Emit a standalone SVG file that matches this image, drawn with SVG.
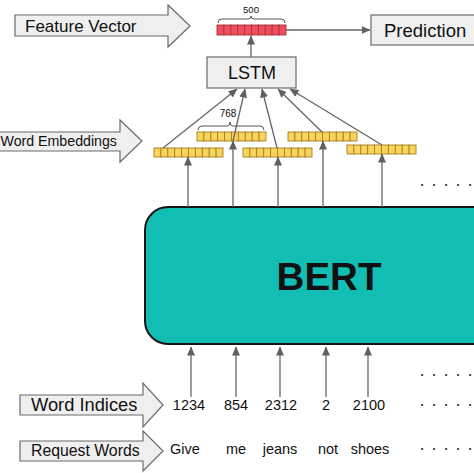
<svg xmlns="http://www.w3.org/2000/svg" width="474" height="473" viewBox="0 0 474 473">
<style>
.blk{fill:#efefef;stroke:#6b6b6b;stroke-width:1.2}
.lbl{font-family:"Liberation Sans",Arial,sans-serif;fill:#111}
.con{stroke:#666;stroke-width:1.3;fill:none}
.ar{marker-end:url(#ah)}
.brace{stroke:#555;stroke-width:1;fill:none}
.dots{stroke:#555;stroke-width:2.2;stroke-dasharray:2.2 9.8;fill:none}
.y{fill:#f8d45c;stroke:#a58022;stroke-width:0.9}
.r{fill:#ef4f5c;stroke:#a8333c;stroke-width:0.9}
</style>
<defs>
<marker id="ah" markerUnits="userSpaceOnUse" markerWidth="9" markerHeight="8" refX="8.5" refY="4" orient="auto">
<path d="M0,0 L9,4 L0,8 z" fill="#5f5f5f"/>
</marker>
<g id="emb">
<rect class="y" x="0" y="0" width="6.9" height="9"/><rect class="y" x="6.9" y="0" width="6.9" height="9"/><rect class="y" x="13.8" y="0" width="6.9" height="9"/><rect class="y" x="20.7" y="0" width="6.9" height="9"/><rect class="y" x="27.6" y="0" width="6.9" height="9"/><rect class="y" x="34.5" y="0" width="6.9" height="9"/><rect class="y" x="41.4" y="0" width="6.9" height="9"/><rect class="y" x="48.3" y="0" width="6.9" height="9"/><rect class="y" x="55.2" y="0" width="6.9" height="9"/><rect class="y" x="62.1" y="0" width="6.9" height="9"/>
</g>
</defs>

<g id="feature-vector-label">
<polygon class="blk" points="15,15 168,15 168,5 190,26 168,47 168,36 15,36"/>
<text class="lbl" x="25" y="32" font-size="17">Feature Vector</text>
</g>
<g id="word-embeddings-label">
<polygon class="blk" points="-5,132 120,132 120,120 142,141 120,162 120,151 -5,151"/>
<text class="lbl" x="0.5" y="146" font-size="14.2">Word Embeddings</text>
</g>
<g id="word-indices-label">
<polygon class="blk" points="20,395 143,395 143,383 163,405 143,427 143,415 20,415"/>
<text class="lbl" x="31" y="411" font-size="18.3">Word Indices</text>
</g>
<g id="request-words-label">
<polygon class="blk" points="20,441 143,441 143,431 163,451 143,471 143,461 20,461"/>
<text class="lbl" x="31" y="456" font-size="15.8">Request Words</text>
</g>

<g id="bert">
<rect x="145" y="207" width="360" height="137" rx="23" fill="#12bdb3" stroke="#151515" stroke-width="2"/>
<text class="lbl" x="329" y="290" font-size="38.5" font-weight="bold" text-anchor="middle" fill="#000">BERT</text>
</g>

<g id="lstm">
<rect class="blk" x="207" y="57" width="89" height="31"/>
<text class="lbl" x="252" y="79" font-size="18" text-anchor="middle">LSTM</text>
</g>

<g id="prediction">
<rect class="blk" x="371" y="15" width="110" height="30"/>
<text class="lbl" x="384" y="37" font-size="18.5">Prediction</text>
</g>

<g id="feature-vector">
<rect class="r" x="217" y="25" width="6.9" height="10"/><rect class="r" x="223.9" y="25" width="6.9" height="10"/><rect class="r" x="230.8" y="25" width="6.9" height="10"/><rect class="r" x="237.7" y="25" width="6.9" height="10"/><rect class="r" x="244.6" y="25" width="6.9" height="10"/><rect class="r" x="251.5" y="25" width="6.9" height="10"/><rect class="r" x="258.4" y="25" width="6.9" height="10"/><rect class="r" x="265.3" y="25" width="6.9" height="10"/><rect class="r" x="272.2" y="25" width="6.9" height="10"/><rect class="r" x="279.1" y="25" width="6.9" height="10"/>
<path class="brace" d="M218,23 Q218,19 222,19 L248,19 Q251,19 251,16 Q251,19 254,19 L281,19 Q285,19 285,23"/>
<text class="lbl" x="251" y="13" font-size="9.5" text-anchor="middle">500</text>
</g>

<g id="embeddings">
<use href="#emb" x="154" y="148"/>
<use href="#emb" x="197" y="132"/>
<use href="#emb" x="243" y="148"/>
<use href="#emb" x="288" y="132"/>
<use href="#emb" x="347" y="145"/>
<path class="brace" d="M198,130 Q198,126 202,126 L227,126 Q230,126 230,122 Q230,126 233,126 L260,126 Q264,126 264,130"/>
<text class="lbl" x="228" y="117" font-size="10" text-anchor="middle">768</text>
</g>

<g id="connectors">
<line class="con ar" x1="286" y1="30" x2="370" y2="30"/>
<line class="con ar" x1="251" y1="57" x2="251" y2="36"/>
<line class="con ar" x1="163" y1="148" x2="237" y2="89"/>
<line class="con ar" x1="233" y1="141" x2="245" y2="89"/>
<line class="con ar" x1="277" y1="148" x2="262" y2="89"/>
<line class="con ar" x1="322" y1="132" x2="278" y2="89"/>
<line class="con ar" x1="382" y1="145" x2="290" y2="89"/>
<line class="con ar" x1="188" y1="207" x2="188" y2="157"/>
<line class="con ar" x1="233" y1="207" x2="233" y2="141"/>
<line class="con ar" x1="278" y1="207" x2="278" y2="157"/>
<line class="con ar" x1="323" y1="207" x2="323" y2="141"/>
<line class="con ar" x1="382" y1="207" x2="382" y2="154"/>
<line class="con ar" x1="191" y1="397" x2="191" y2="347"/>
<line class="con ar" x1="236" y1="397" x2="236" y2="347"/>
<line class="con ar" x1="280" y1="397" x2="280" y2="347"/>
<line class="con ar" x1="326" y1="397" x2="326" y2="347"/>
<line class="con ar" x1="368" y1="397" x2="368" y2="347"/>
</g>

<g id="indices" class="lbl" font-size="14.5" text-anchor="middle">
<text x="189" y="410">1234</text>
<text x="236" y="410">854</text>
<text x="281" y="410">2312</text>
<text x="326" y="410">2</text>
<text x="369" y="410">2100</text>
</g>
<g id="words" class="lbl" font-size="14.5" text-anchor="middle">
<text x="185" y="454">Give</text>
<text x="236" y="454">me</text>
<text x="280" y="454">jeans</text>
<text x="328" y="454">not</text>
<text x="370" y="454">shoes</text>
</g>

<g id="ellipses">
<line class="dots" x1="421" y1="185" x2="474" y2="185"/>
<line class="dots" x1="421" y1="375" x2="474" y2="375"/>
<line class="dots" x1="421" y1="405" x2="474" y2="405"/>
<line class="dots" x1="421" y1="449" x2="474" y2="449"/>
</g>
</svg>
